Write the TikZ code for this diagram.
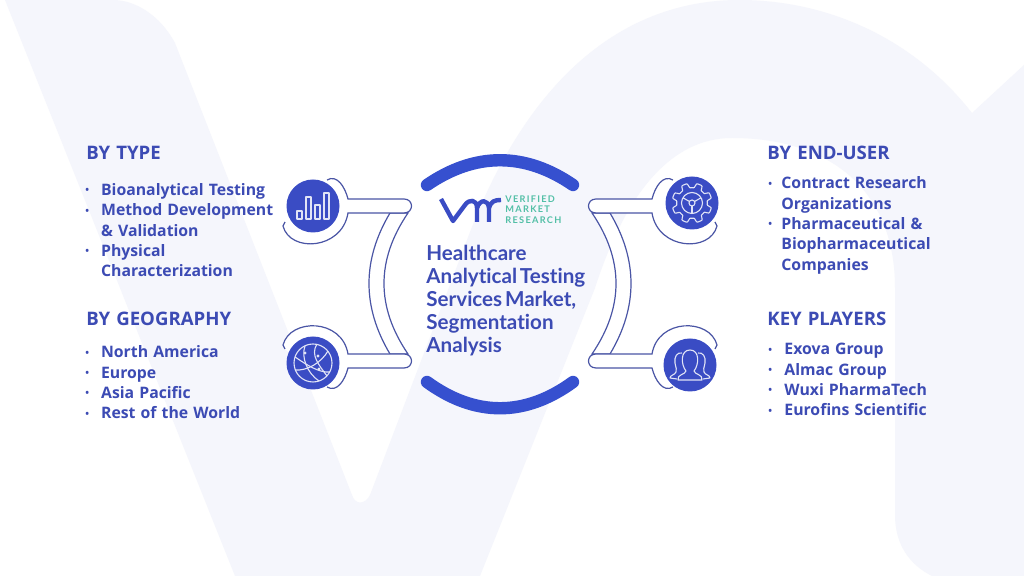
\documentclass[tikz,border=0pt]{standalone}
\usepackage{fontspec}
\usepackage{tikz}
\usetikzlibrary{positioning}
\newfontfamily\headfont{Open Sans}
\newfontfamily\listfont[WordSpace=1.25]{Open Sans}
\newfontfamily\titlefont[WordSpace=0.55,Ligatures=NoCommon]{Lato}
\newfontfamily\logofont[LetterSpace=14]{Lato}
\definecolor{mwash}{HTML}{F5F6FC}
\definecolor{mtext}{HTML}{3C4BB4}
\definecolor{mdisc}{HTML}{3A4CC4}
\definecolor{mring}{HTML}{3650CF}
\definecolor{mline}{HTML}{4A55A5}
\definecolor{mteal}{HTML}{52BFA6}
\newcommand{\dotmark}{\raisebox{0.8pt}{\tiny\textbullet}}
\tikzset{
    headtext/.style={anchor=base west, inner sep=0, text=mtext, font=\headfont\bfseries\fontsize{9.3}{11}\selectfont},
    listtext/.style={anchor=north west, inner sep=0, text=mtext, font=\listfont\bfseries\fontsize{7.9}{10.2}\selectfont},
    icondisc/.style={circle, fill=mdisc, inner sep=0, minimum size=26.5pt},
    iconline/.style={draw=white!85!mdisc, line width=0.55pt, line join=round},
    armline/.style={draw=mline, fill=white, line width=0.6pt},
    ringarc/.style={draw=mring, line width=6.2pt, line cap=round},
    logoline/.style={draw=mdisc, line width=2.2pt, line join=round}
}

\begin{document}
\begin{tikzpicture}[x=0.5pt, y=-0.5pt]
    \useasboundingbox (0, 0) rectangle (1024, 576);
    \fill [white] (0, 0) rectangle (1024, 576);

    % watermark
    \fill [mwash] (5, 0) -- (235, 576) -- (480, 576) -- (595, 288)
        .. controls (625, 195) and (670, 138) .. (732, 138)
        .. controls (830, 138) and (895, 190) .. (895, 288)
        -- (895, 515) .. controls (895, 545) and (910, 565) .. (932, 576)
        -- (1024, 576) -- (1024, 65) -- (972, 113)
        .. controls (915, 40) and (830, 0) .. (739, 0)
        .. controls (630, 0) and (530, 70) .. (467, 240)
        -- (370, 495) .. controls (365, 505) and (355, 505) .. (352, 495)
        -- (175, 43) .. controls (160, 15) and (135, 0) .. (113, 0) -- cycle;

    % arms, the right side is the mirror of the left
    \foreach \mx/\sx in {0/1, 1000/-1} {
        \begin{scope}[shift={(\mx, 0)}, xscale=\sx]
            \path [armline] (390, 213) .. controls (362, 260) and (362, 307) .. (390, 354)
                -- (408, 354) .. controls (376, 307) and (376, 260) .. (408, 213) -- cycle;
            \path [armline] (327, 180) .. controls (337, 174) and (345, 187) .. (348, 199)
                -- (404, 199) .. controls (414, 199) and (414, 213) .. (404, 213) -- (348, 213)
                .. controls (342, 250) and (290, 253) .. (283, 226) -- (285, 222);
            \path [armline] (285, 349) -- (283, 345) .. controls (290, 318) and (342, 318) .. (348, 354)
                -- (404, 354) .. controls (414, 354) and (414, 368) .. (404, 368) -- (348, 368)
                .. controls (345, 380) and (337, 393) .. (327, 387);
        \end{scope}
    }

    \node [icondisc] (chart) at (313, 206) {};
    \node [icondisc] (globe) at (313, 363) {};
    \node [icondisc] (gear) at (692, 203) {};
    \node [icondisc] (people) at (690, 365) {};

    % chart icon
    \foreach \x/\y in {297/211, 306/197, 315/205, 324/193} {
        \draw [iconline] (\x, \y) rectangle (\x + 5, 219);
    }

    % globe icon
    \begin{scope}[shift={(globe.center)}]
        \draw [iconline] (0, 0) circle [radius=19];
        \draw [iconline] (-18, -6) .. controls (-6, 2) and (6, 10) .. (17, 9);
        \draw [iconline] (-18, 7) .. controls (-6, 8) and (8, 0) .. (15, -12);
        \draw [iconline] (-8, -17) .. controls (-12, -6) and (-6, 10) .. (6, 18);
        \draw [iconline] (4, -19) .. controls (-3, -8) and (6, 2) .. (14, 13);
        \fill [white!85!mdisc] (-8, -10) circle [radius=1.6] (5, -7) circle [radius=1.6] (6, 6) circle [radius=1.6];
    \end{scope}

    % gear icon
    \begin{scope}[shift={(gear.center)}]
        \draw [iconline] plot [domain=0:360, samples=145, smooth] (\x + 11: {17.6 + 2.3 * max(min(2.4 * sin(8 * \x), 1), -1)}) -- cycle;
        \draw [iconline] (0, 0) circle [radius=10.5];
        \draw [iconline] (0, 0) circle [radius=3];
        \foreach \a in {90, 210, 330} {
            \draw [iconline] (\a: 3) -- (\a: 10.5);
        }
    \end{scope}

    % people icon
    \begin{scope}[shift={(people.center)}]
        \draw [iconline] (-8, -12) .. controls (-13, -13) and (-16, -8) .. (-15, -2)
            .. controls (-14, 3) and (-13, 5) .. (-14, 7) .. controls (-15, 10) and (-20, 10) .. (-20, 13) -- (-13, 14);
        \draw [iconline] (8, -12) .. controls (13, -13) and (16, -8) .. (15, -2)
            .. controls (14, 3) and (13, 5) .. (14, 7) .. controls (15, 10) and (20, 10) .. (20, 13) -- (13, 14);
        \draw [iconline] (-12, 15) .. controls (-13, 9) and (-5, 10) .. (-4, 6)
            .. controls (-9, 0) and (-10, -15) .. (0, -15)
            .. controls (10, -15) and (9, 0) .. (4, 6)
            .. controls (5, 10) and (13, 9) .. (12, 15) -- cycle;
    \end{scope}

    % centre ring
    \draw [ringarc] (427, 185) .. controls (475, 152) and (525, 152) .. (573, 185);
    \draw [ringarc] (427, 382) .. controls (475, 417) and (525, 417) .. (573, 382);

    % logo
    \draw [logoline] (441, 199) -- (453, 221) -- (465, 205) .. controls (469, 199) and (477, 199) .. (477, 208)
        -- (477, 222);
    \draw [logoline] (477, 208) .. controls (480, 199) and (488, 199) .. (489, 208) -- (489, 222);
    \draw [logoline] (489, 208) .. controls (491, 201) and (495, 200) .. (501, 200);
    \node [anchor=west, inner sep=0, text=mteal, font=\logofont\bfseries\fontsize{4.6}{5.3}\selectfont, align=left] (brand) at (505, 209.5) {VERIFIED\\MARKET\\RESEARCH};

    \node [anchor=north west, inner sep=0, text=mtext, font=\titlefont\bfseries\fontsize{10.3}{11.5}\selectfont, align=left] (title) at (426, 245) {Healthcare\\Analytical Testing\\Services Market,\\Segmentation\\Analysis};

    \node [headtext] (typehead) at (86, 160) {BY TYPE};
    \node [listtext] (typelist) at (85, 180.7) {\begin{tabular}{@{}p{7.85pt}@{}l@{}}
        \dotmark & Bioanalytical Testing\\
        \dotmark & Method Development\\
         & \& Validation\\
        \dotmark & Physical\\
         & Characterization
    \end{tabular}};
    \node [headtext] (geohead) at (86, 326) {BY GEOGRAPHY};
    \node [listtext] (geolist) at (85, 343) {\begin{tabular}{@{}p{7.85pt}@{}l@{}}
        \dotmark & North America\\
        \dotmark & Europe\\
        \dotmark & Asia Pacific\\
        \dotmark & Rest of the World
    \end{tabular}};
    \node [headtext] (userhead) at (767, 160) {BY END-USER};
    \node [listtext] (userlist) at (768, 174) {\begin{tabular}{@{}p{6.5pt}@{}l@{}}
        \dotmark & Contract Research\\
         & Organizations\\
        \dotmark & Pharmaceutical \&\\
         & Biopharmaceutical\\
         & Companies
    \end{tabular}};
    \node [headtext] (keyhead) at (767, 326) {KEY PLAYERS};
    \node [listtext] (keylist) at (768, 340) {\begin{tabular}{@{}p{8pt}@{}l@{}}
        \dotmark & Exova Group\\
        \dotmark & Almac Group\\
        \dotmark & Wuxi PharmaTech\\
        \dotmark & Eurofins Scientific
    \end{tabular}};
\end{tikzpicture}
\end{document}
